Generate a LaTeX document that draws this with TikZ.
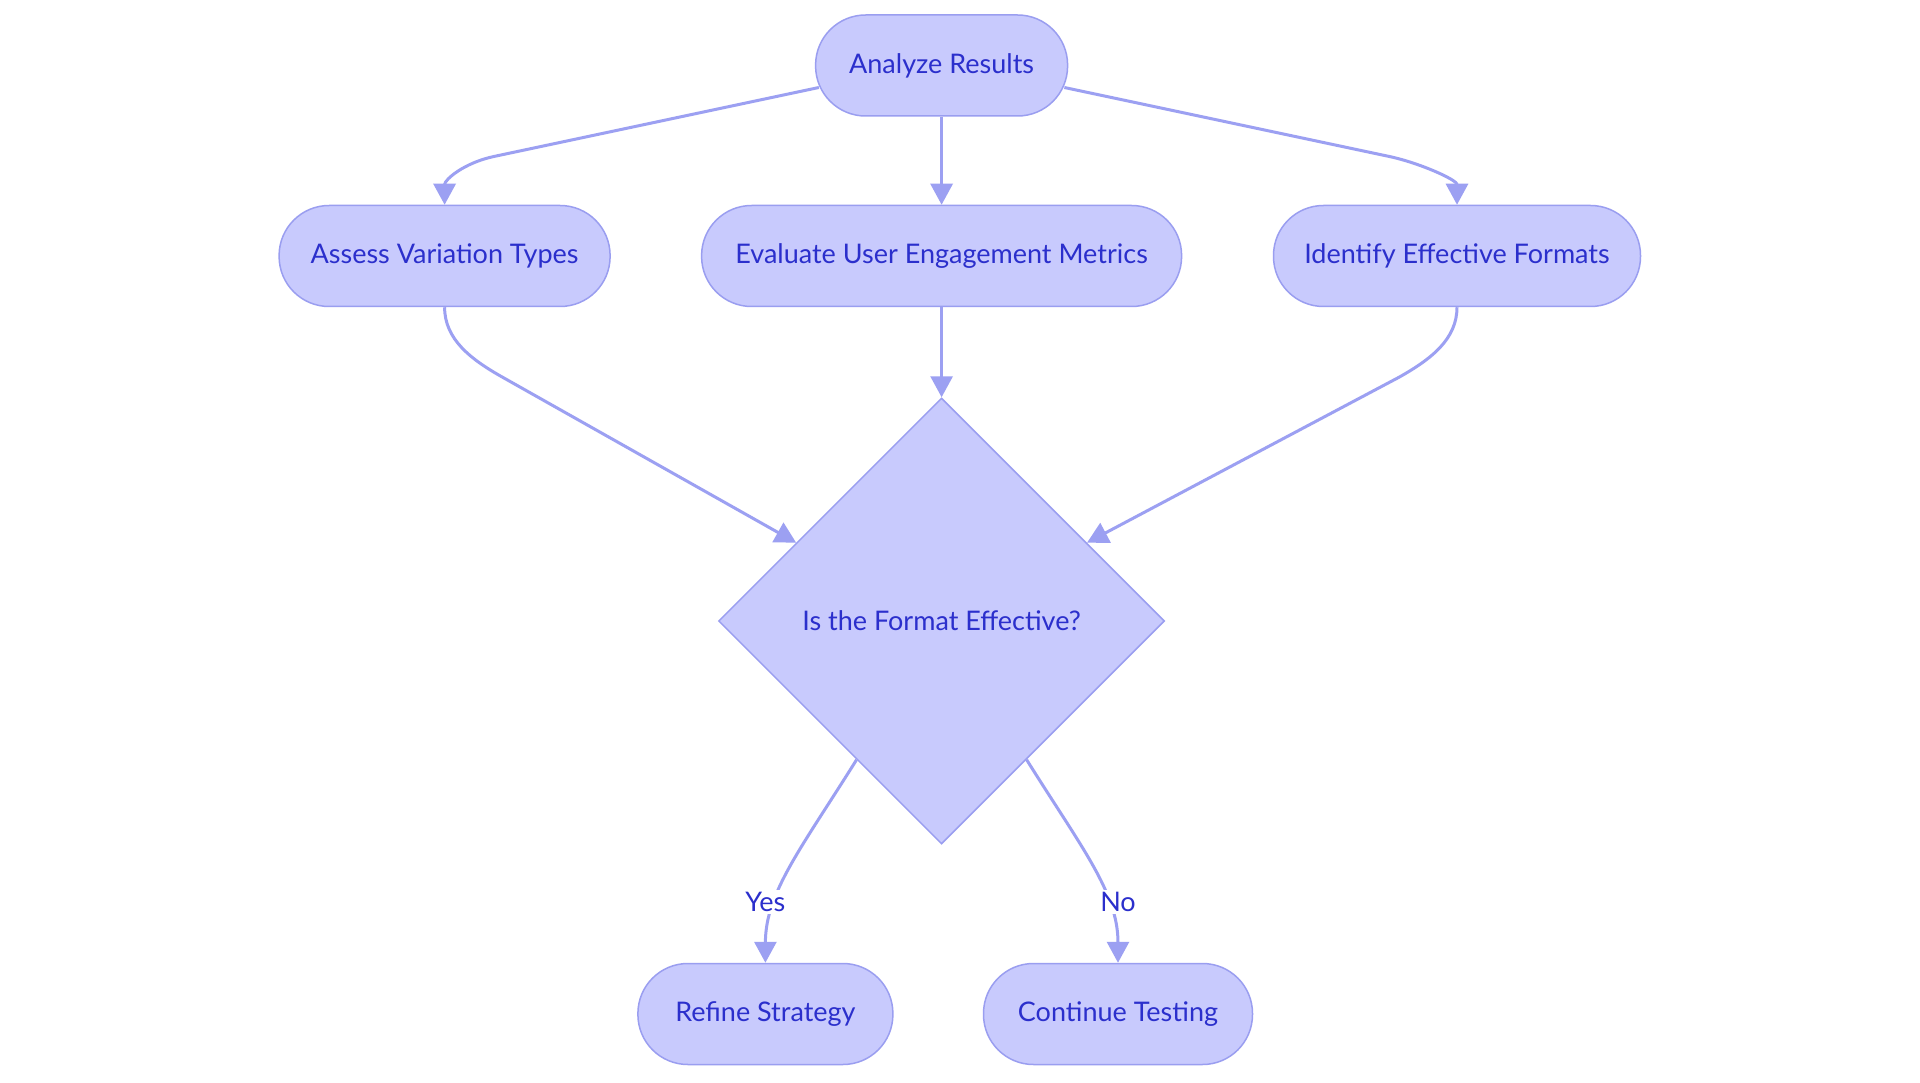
\documentclass[tikz,border=0pt]{standalone}
\usepackage{fontspec}
\setmainfont{Lato}
\usetikzlibrary{shapes.geometric,arrows.meta,calc}
\definecolor{nodefill}{HTML}{C8CAFD}
\definecolor{nodeline}{HTML}{9A9EF0}
\definecolor{edgecol}{HTML}{9CA0F2}
\definecolor{txt}{HTML}{2B2FCC}
\begin{document}
\begin{tikzpicture}[x=1pt,y=-1pt,
  pill/.style={draw=nodeline, fill=nodefill, line width=1.5pt, rounded corners=50pt,
    minimum height=101pt, text=txt, font=\fontsize{27}{31}\selectfont, inner sep=0pt},
  dec/.style={diamond, aspect=1, draw=nodeline, fill=nodefill, line width=1.5pt,
    minimum width=446pt, minimum height=446pt, inner sep=0pt, text=txt,
    font=\fontsize{27}{31}\selectfont},
  edge/.style={draw=edgecol, line width=3pt, -{Triangle[length=21pt,width=22pt]}},
  lbl/.style={fill=white, text=txt, font=\fontsize{27}{31}\selectfont, inner sep=2pt}
]
\useasboundingbox[fill=white] (0,0) rectangle (1920,1083);

\node[pill, minimum width=252pt] (a) at (941.6,65.5) {Analyze Results};
\node[pill, minimum width=331pt] (b) at (444.6,256) {Assess Variation Types};
\node[pill, minimum width=480pt] (c) at (941.6,256) {Evaluate User Engagement Metrics};
\node[pill, minimum width=367pt] (d) at (1457,256) {Identify Effective Formats};
\node[dec] (e) at (941.6,621) {Is the Format Effective?};
\node[pill, minimum width=255pt] (f) at (765.4,1014) {Refine Strategy};
\node[pill, minimum width=269pt] (g) at (1118,1014) {Continue Testing};

% top fan-out
\draw[edge] ($(a.west)+(4,22)$) -- ++(-325,69)
  .. controls +(-30,6.4) and +(0,-25) .. (b.north);
\draw[edge] (a.south) -- (c.north);
\draw[edge] ($(a.east)+(-4,22)$) -- ++(325,69)
  .. controls +(30,6.4) and +(0,-25) .. (d.north);

% into the decision
\draw[edge] (c.south) -- (e.north);
\draw[edge] (b.south) .. controls +(0,32) and +(-32,-18) .. ++(58,70)
  -- ($(e.west)!0.35!(e.north)$);
\draw[edge] (d.south) .. controls +(0,32) and +(32,-18) .. ++(-58,70)
  -- ($(e.east)!0.35!(e.north)$);

% out of the decision
\draw[edge] ($(e.west)!0.62!(e.south)$) .. controls +(-55,88) and +(0,-70) .. (f.north);
\draw[edge] ($(e.east)!0.62!(e.south)$) .. controls +(55,88) and +(0,-70) .. (g.north);

\node[lbl] (yes) at ($(f.north)+(0,-61)$) {Yes};
\node[lbl] (no) at ($(g.north)+(0,-61)$) {No};
\end{tikzpicture}
\end{document}
